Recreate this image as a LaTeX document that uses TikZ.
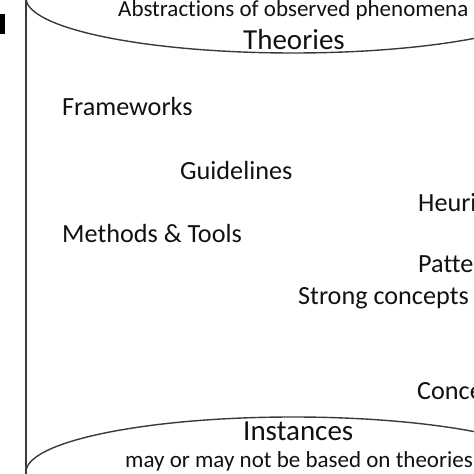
\documentclass[tikz,border=0pt]{standalone}
\usepackage{fontspec}
\setmainfont{Carlito}[Ligatures=NoCommon,RawFeature={-liga}]
\definecolor{linec}{HTML}{3A3A3A}
\definecolor{txt}{HTML}{111111}
\begin{document}
\begin{tikzpicture}[x=1pt,y=1pt,
  cyl/.style={draw=linec,line width=1.4pt},
  big/.style={anchor=base west,inner sep=0pt,text=txt,font=\fontsize{29}{32}\selectfont},
  small/.style={anchor=base west,inner sep=0pt,text=txt,font=\fontsize{23}{26}\selectfont},
  mid/.style={anchor=base west,inner sep=0pt,text=txt,font=\fontsize{26.2}{29}\selectfont}]
\useasboundingbox (0,0) rectangle (474,474);
\clip (0,0) rectangle (474,474);
\fill[black] (0,440) rectangle (5,460);
\draw[cyl] (26,-5) -- (26,480);
\draw[cyl] (26,476) arc[start angle=180,end angle=360,x radius=267,y radius=55];
\draw[cyl] (26,2) arc[start angle=180,end angle=0,x radius=267,y radius=55];
\node[small] (abs) at (118,457) {Abstractions of observed phenomena};
\node[big] (theo) at (243,424) {Theories};
\node[mid] (fw) at (62,358) {Frameworks};
\node[mid] (gl) at (180,294) {Guidelines};
\node[mid] (heu) at (418,262) {Heuristics};
\node[mid] (mt) at (62,231) {Methods \& Tools};
\node[mid] (pat) at (418,201) {Patterns};
\node[mid] (sc) at (298,169) {Strong concepts};
\node[mid] (con) at (417,74) {Concepts};
\node[big] (inst) at (243,34) {Instances};
\node[small] (may) at (125,6) {may or may not be based on theories};
\end{tikzpicture}
\end{document}
